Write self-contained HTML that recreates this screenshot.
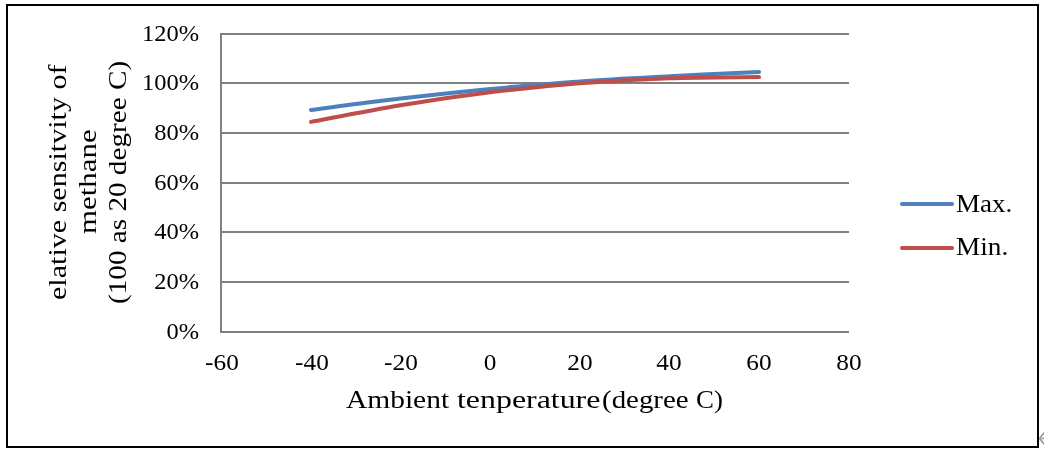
<!DOCTYPE html>
<html>
<head>
<meta charset="utf-8">
<title>Chart</title>
<style>
html,body{margin:0;padding:0;background:#fff;}
body{width:1044px;height:453px;position:relative;overflow:hidden;font-family:"Liberation Serif",serif;color:#000;}
#frame{position:absolute;left:6px;top:4px;width:1029px;height:440px;border:2px solid #000;}
svg{position:absolute;left:0;top:0;}
.t{position:absolute;white-space:nowrap;line-height:1;transform-origin:0 0;will-change:transform;}
.yl{font-size:23.5px;left:99px;width:100px;text-align:right;transform-origin:100% 0;transform:scaleX(1.04);}
.xl{font-size:23px;top:351px;width:100px;text-align:center;transform-origin:50% 0;transform:scaleX(1.1);}
</style>
</head>
<body>
<div id="frame"></div>
<svg width="1044" height="453" viewBox="0 0 1044 453">
  <g fill="#808080">
    <rect x="220" y="33" width="629" height="2"/>
    <rect x="220" y="82" width="629" height="2"/>
    <rect x="220" y="132" width="629" height="2"/>
    <rect x="220" y="182" width="629" height="2"/>
    <rect x="220" y="231" width="629" height="2"/>
    <rect x="220" y="281" width="629" height="2"/>
    <rect x="220" y="331" width="629" height="2"/>
    <rect x="220" y="33" width="2" height="300"/>
  </g>
  <g fill="none" stroke-width="4" stroke-linecap="round" stroke-linejoin="round">
    <path id="blue" stroke="#4d80bc" d="M311.00 109.90 C325.92 108.00 370.63 101.98 400.50 98.50 C430.37 95.02 460.30 91.83 490.20 89.00 C520.10 86.17 550.02 83.62 579.90 81.50 C609.78 79.38 639.65 77.90 669.50 76.30 C699.35 74.70 744.08 72.63 759.00 71.90"/>
    <path id="red" stroke="#bf4e4b" d="M311.00 121.90 C325.92 119.12 370.63 110.13 400.50 105.20 C430.37 100.27 460.30 95.95 490.20 92.30 C520.10 88.65 550.02 85.63 579.90 83.30 C609.78 80.97 639.65 79.33 669.50 78.30 C699.35 77.27 744.08 77.30 759.00 77.10"/>
    <path stroke="#4d80bc" d="M902 204 H952"/>
    <path stroke="#bf4e4b" d="M902 248 H952"/>
  </g>
  <g fill="none" stroke="#8c8c8c" stroke-width="1.5">
    <path d="M1046 430.4 L1039.6 438.4 L1046 446.4"/>
    <path stroke="#a6a6a6" stroke-width="1.8" d="M1039.6 438.4 H1046"/>
  </g>
</svg>

<div class="t yl" style="top:21.56px;">120%</div>
<div class="t yl" style="top:70.56px;">100%</div>
<div class="t yl" style="top:120.56px;">80%</div>
<div class="t yl" style="top:170.56px;">60%</div>
<div class="t yl" style="top:219.56px;">40%</div>
<div class="t yl" style="top:269.56px;">20%</div>
<div class="t yl" style="top:319.56px;">0%</div>

<div class="t xl" style="left:171.70px;">-60</div>
<div class="t xl" style="left:261.50px;">-40</div>
<div class="t xl" style="left:350.70px;">-20</div>
<div class="t xl" style="left:440.30px;">0</div>
<div class="t xl" style="left:529.80px;">20</div>
<div class="t xl" style="left:619.20px;">40</div>
<div class="t xl" style="left:709.00px;">60</div>
<div class="t xl" style="left:798.80px;">80</div>

<div class="t" style="font-size:26px;left:346.40px;top:386.83px;transform:scaleX(1.1333);">Ambient</div>
<div class="t" style="font-size:26px;left:457.37px;top:386.83px;transform:scaleX(1.2261);">tenperature</div>
<div class="t" style="font-size:26px;left:601.99px;top:386.83px;transform:scaleX(1.1118);">(degree</div>
<div class="t" style="font-size:26px;left:696.27px;top:386.83px;transform:scaleX(1.0333);">C)</div>
<div class="t" style="font-size:25px;left:955.92px;top:191.06px;transform:scaleX(1.0816);">Max.</div>
<div class="t" style="font-size:25px;left:955.91px;top:234.06px;transform:scaleX(1.0889);">Min.</div>

<div class="t" style="font-size:26px;left:44.62px;top:300.26px;transform:rotate(-90deg) scaleX(1.1567);">elative sensitvity of</div>
<div class="t" style="font-size:26px;left:74.62px;top:233.89px;transform:rotate(-90deg) scaleX(1.1884);">methane</div>
<div class="t" style="font-size:26px;left:104.82px;top:303.82px;transform:rotate(-90deg) scaleX(1.1224);">(100 as 20 degree C)</div>
</body>
</html>
